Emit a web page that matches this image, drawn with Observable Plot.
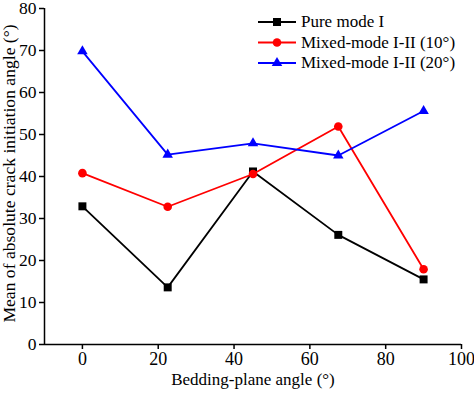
<!DOCTYPE html>
<html><head><meta charset="utf-8">
<script src="https://cdn.jsdelivr.net/npm/d3@7"></script>
<script src="https://cdn.jsdelivr.net/npm/@observablehq/plot@0.6"></script>
<style>
body{margin:0;background:#fff;}
#wrap{position:relative;width:474px;height:397px;font-family:"Liberation Serif","Times New Roman",serif;color:#000;}
#legend{position:absolute;left:0;top:0;}
</style></head><body><div id="wrap"></div>
<script>
const angles = [0, 22.5, 45, 67.5, 90];
const pureModeI = [32.9, 13.6, 41.2, 26.1, 15.5];
const mixed10 = [40.8, 32.8, 40.6, 51.9, 17.9];
const mixed20 = [69.8, 45.2, 47.9, 45.0, 55.6];
const seriesNames = ["Pure mode I", "Mixed-mode I-II (10°)", "Mixed-mode I-II (20°)"];
const seriesColors = ["#000000", "#ff0000", "#0000ff"];
const seriesSymbols = ["square", "circle", "triangle"];
const seriesR = [4.5, 4.3, 3.9];
const xTicks = [0, 20, 40, 60, 80, 100];
const yTicks = [0, 10, 20, 30, 40, 50, 60, 70, 80];
const xLabel = "Bedding-plane angle (°)";
const yLabel = "Mean of absolute crack initiation angle (°)";

const seriesValues = [pureModeI, mixed10, mixed20];
const rows = seriesValues.map((vals, s) => angles.map((a, i) => ({series: seriesNames[s], x: a, y: vals[i]})));

const font = '"Liberation Serif","Times New Roman",serif';
const marks = [
  Plot.ruleY([0], {stroke: "#000", strokeWidth: 1.5}),
  Plot.ruleX([-10], {stroke: "#000", strokeWidth: 1.5}),
  Plot.axisX(xTicks, {tickSize: 5, tickPadding: 3, strokeWidth: 1.5, label: null, fontSize: 18}),
  Plot.axisY(yTicks, {tickSize: 5, tickPadding: 3, strokeWidth: 1.5, label: null, fontSize: 17.5}),
  Plot.text([xLabel], {frameAnchor: "bottom", dy: 40, fontSize: 17}),
  Plot.text([yLabel], {frameAnchor: "left", textAnchor: "middle", rotate: -90, dx: -35, dy: -3, fontSize: 17.6}),
];
rows.forEach((r, s) => {
  marks.push(Plot.line(r, {x: "x", y: "y", stroke: seriesColors[s], strokeWidth: 1.8}));
  marks.push(Plot.dot(r, {x: "x", y: "y", fill: seriesColors[s], stroke: "none", symbol: seriesSymbols[s], r: seriesR[s]}));
});

const chart = Plot.plot({
  width: 474, height: 397,
  marginLeft: 44, marginRight: 13, marginTop: 8, marginBottom: 53,
  x: {domain: [-10, 100]},
  y: {domain: [0, 80]},
  style: {fontFamily: font, fontSize: "17px", background: "#fff", color: "#000", overflow: "visible"},
  marks
});
document.getElementById("wrap").appendChild(chart);

// legend overlay
const lg = d3.select("#wrap").append("svg").attr("id", "legend").attr("width", 474).attr("height", 90);
const rowY = [22, 42.5, 63];
seriesNames.forEach((name, s) => {
  const g = lg.append("g").attr("transform", `translate(0,${rowY[s]})`);
  g.append("line").attr("x1", 258).attr("x2", 296).attr("stroke", seriesColors[s]).attr("stroke-width", 1.8);
  const sym = {square: d3.symbolSquare, circle: d3.symbolCircle, triangle: d3.symbolTriangle}[seriesSymbols[s]];
  g.append("path").attr("transform", "translate(277,0)").attr("d", d3.symbol(sym, Math.PI * seriesR[s] * seriesR[s])()).attr("fill", seriesColors[s]);
  g.append("text").attr("x", 301).attr("dy", "0.32em").attr("font-family", font).attr("font-size", 17).text(name);
});
</script></body></html>
